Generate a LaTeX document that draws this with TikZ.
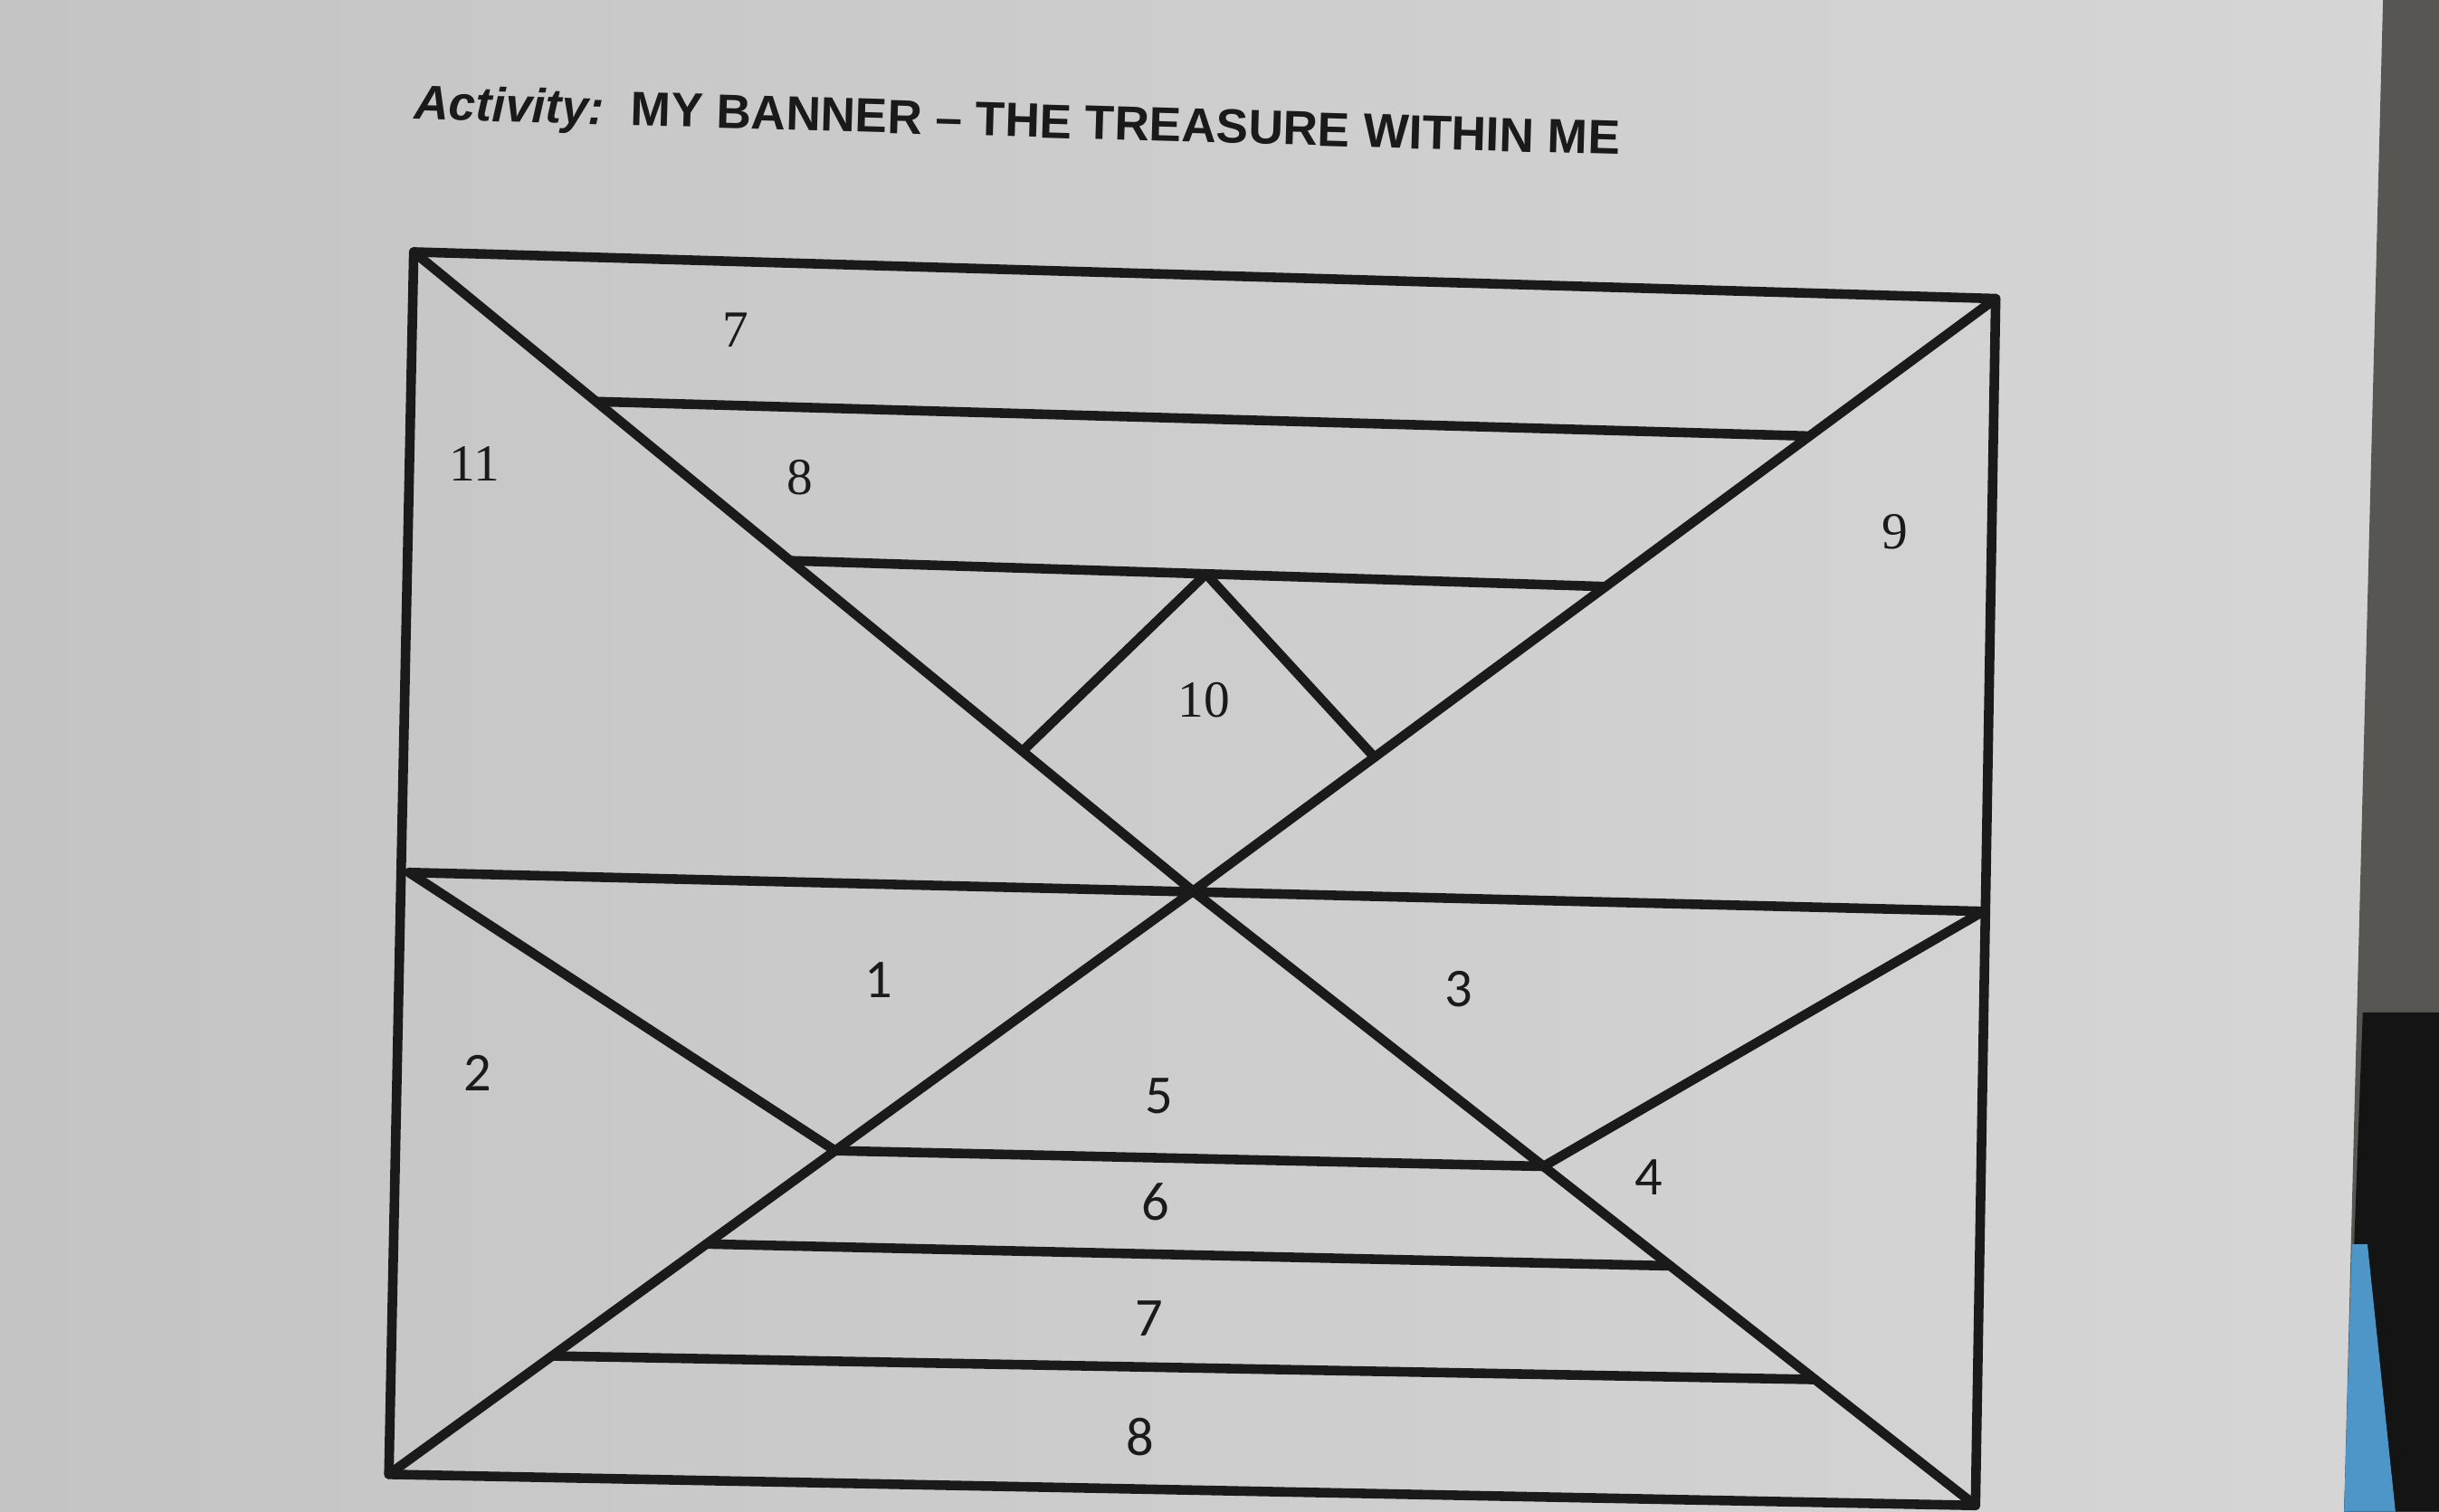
\documentclass[tikz,border=0pt]{standalone}
\usepackage{fontspec}
\usepackage{xcolor}
\setmainfont{Liberation Serif}
\newfontfamily\titlefont{Liberation Sans}
\newfontfamily\numfont{Carlito}
\usetikzlibrary{calc}

\definecolor{paper dark}{RGB}{196,196,196}
\definecolor{paper light}{RGB}{214,214,214}
\definecolor{ink}{RGB}{26,26,26}
\definecolor{table}{RGB}{88,86,82}
\definecolor{cloth}{RGB}{78,150,200}

\tikzset{
	serif label/.style = {text = ink, font = \fontsize{9.5}{11}\selectfont, inner sep = 0pt},
	sans label/.style = {text = ink, font = \numfont\fontsize{10}{11}\selectfont, inner sep = 0pt},
}

\begin{document}
\begin{tikzpicture}[x = 0.01cm, y = -0.01cm, line width = 1.75pt, line join = round, line cap = round]
		\useasboundingbox (0,0) rectangle (1568,972);
		
		% paper and what lies beside it
		\shade [left color = paper dark, right color = paper light] (0,0) rectangle (1568,972);
		\fill [table] (1532,0) -- (1568,0) -- (1568,972) -- (1507,972) -- cycle;
		\fill [black!92] (1519,651) -- (1568,651) -- (1568,972) -- (1507,972) -- cycle;
		\fill [cloth] (1512,800) -- (1522,800) -- (1540,972) -- (1507,972) -- cycle;
		
		\node [rotate = -1.7, inner sep = 0pt, text = ink, font = \titlefont\bfseries\fontsize{8.8}{11}\selectfont] (title) at (654,80)
			{\textit{Activity:}\ \ MY BANNER \textendash{} THE TREASURE WITHIN ME};
		
		\coordinate (top left) at (266,162);
		\coordinate (top right) at (1283,192);
		\coordinate (bottom right) at (1270,968);
		\coordinate (bottom left) at (250,948);
		\coordinate (mid left) at (263,561);
		\coordinate (mid right) at (1275,586);
		\coordinate (centre) at (767,573);
		
		% upper half
		\coordinate (band 1 left) at ($ (top left)!0.234!(centre) $);
		\coordinate (band 1 right) at ($ (top right)!0.232!(centre) $);
		\coordinate (band 2 left) at ($ (top left)!0.483!(centre) $);
		\coordinate (band 2 right) at ($ (top right)!0.486!(centre) $);
		\coordinate (roof top) at ($ (band 2 left)!0.51!(band 2 right) $);
		\coordinate (roof left) at ($ (top left)!0.781!(centre) $);
		\coordinate (roof right) at ($ (top right)!0.774!(centre) $);
		
		% lower half
		\coordinate (fork left) at ($ (centre)!0.445!(bottom left) $);
		\coordinate (fork right) at ($ (centre)!0.448!(bottom right) $);
		\coordinate (band 3 left) at ($ (centre)!0.605!(bottom left) $);
		\coordinate (band 3 right) at ($ (centre)!0.610!(bottom right) $);
		\coordinate (band 4 left) at ($ (centre)!0.797!(bottom left) $);
		\coordinate (band 4 right) at ($ (centre)!0.795!(bottom right) $);
		
		\draw [ink] (top left) -- (top right) -- (bottom right) -- (bottom left) -- cycle;
		\draw [ink] (mid left) -- (mid right);
		
		\draw [ink] (top left) -- (centre) -- (bottom right);
		\draw [ink] (top right) -- (centre) -- (bottom left);
		
		\draw [ink] (band 1 left) -- (band 1 right);
		\draw [ink] (band 2 left) -- (band 2 right);
		\draw [ink] (roof left) -- (roof top) -- (roof right);
		
		\draw [ink] (mid left) -- (fork left) -- (fork right) -- (mid right);
		\draw [ink] (band 3 left) -- (band 3 right);
		\draw [ink] (band 4 left) -- (band 4 right);
		
		\node [serif label] (label 7 top) at (473,212) {7};
		\node [serif label] (label 11) at (305,298) {11};
		\node [serif label] (label 8 top) at (514,307) {8};
		\node [serif label] (label 9) at (1218,342) {9};
		\node [serif label] (label 10) at (774,450) {10};
		
		\node [sans label] (label 1) at (565,630) {1};
		\node [sans label] (label 3) at (938,636) {3};
		\node [sans label] (label 2) at (307,690) {2};
		\node [sans label] (label 5) at (745,705) {5};
		\node [sans label] (label 4) at (1060,757) {4};
		\node [sans label] (label 6) at (743,773) {6};
		\node [sans label] (label 7 bottom) at (739,848) {7};
		\node [sans label] (label 8 bottom) at (733,924) {8};
	\end{tikzpicture}
\end{document}
